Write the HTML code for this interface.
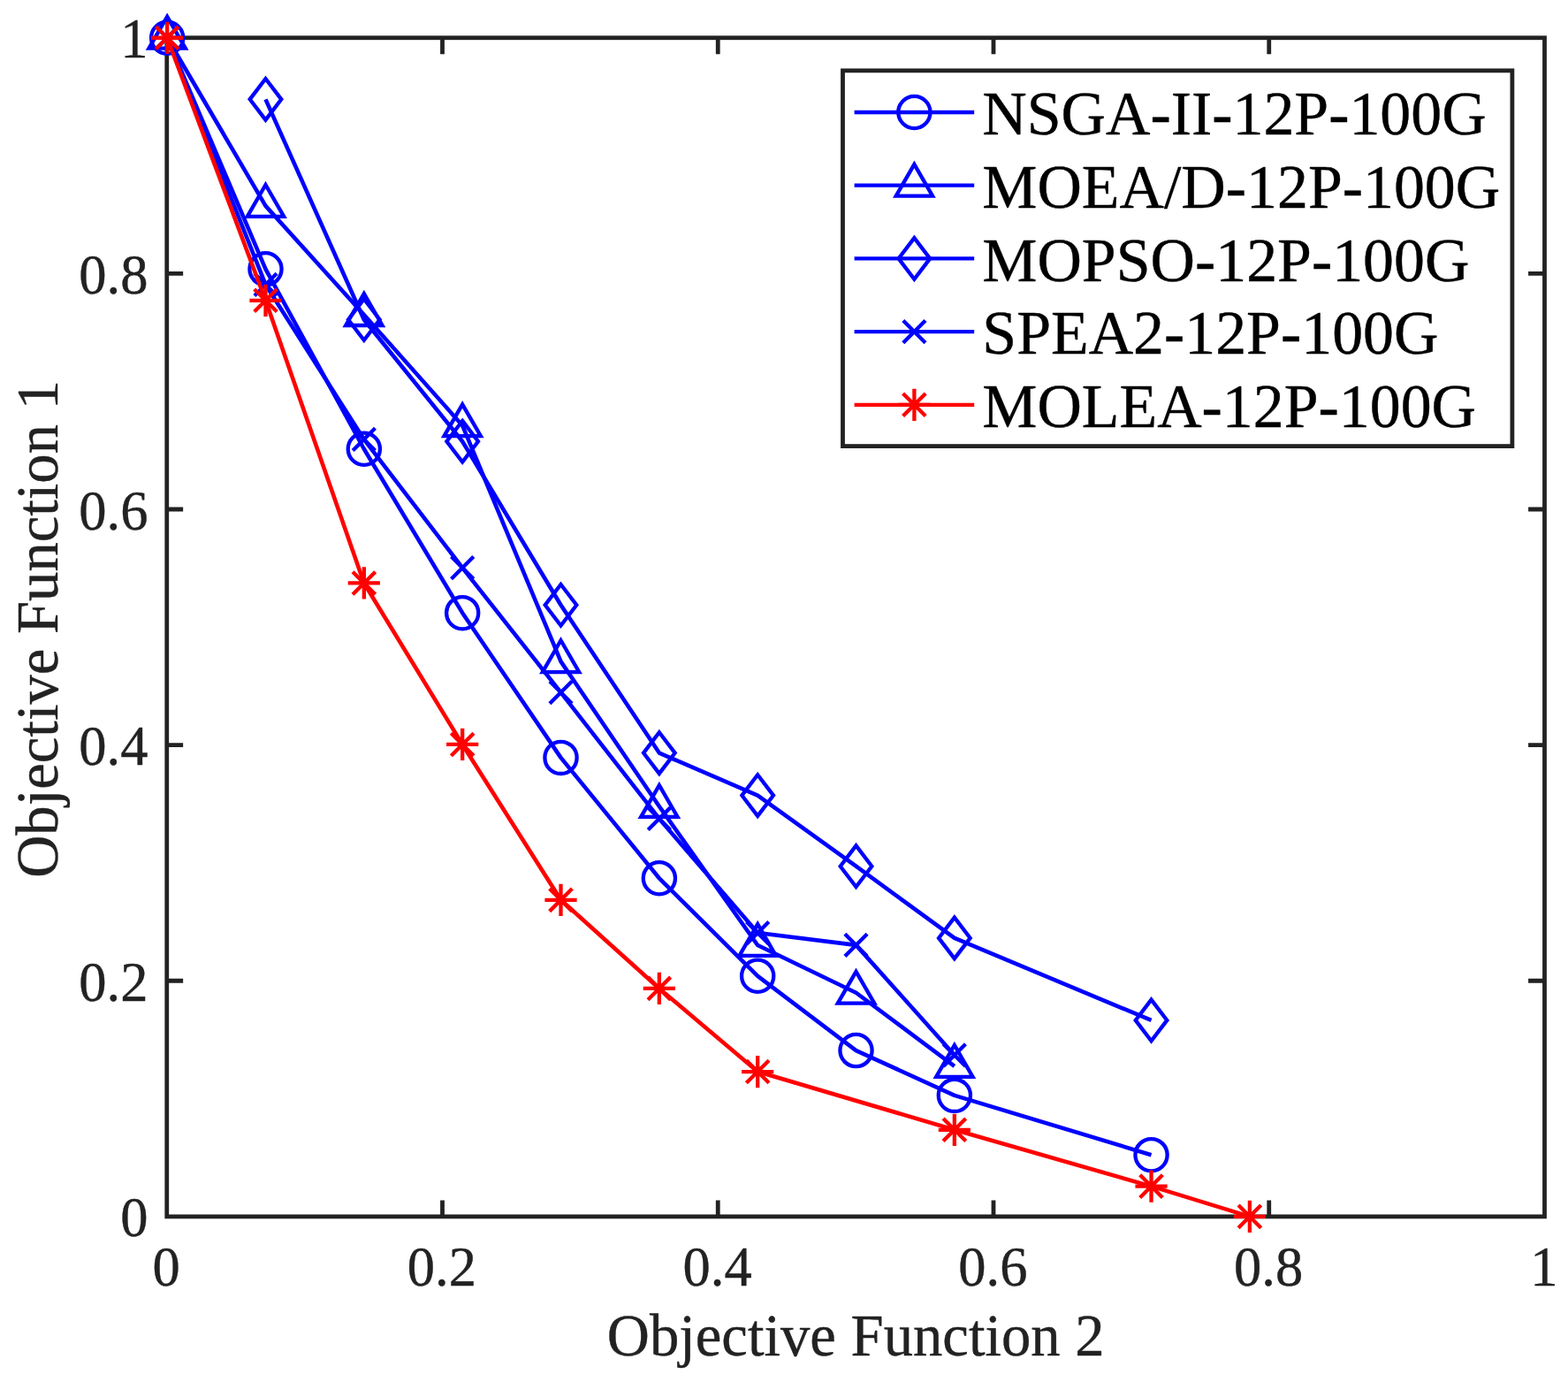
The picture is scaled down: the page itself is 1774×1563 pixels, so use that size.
<!DOCTYPE html>
<html lang="en"><head><meta charset="utf-8"><title>Pareto fronts: Objective Function 1 vs Objective Function 2</title>
<style>
html,body{margin:0;padding:0;background:#fff;}
body{width:1774px;height:1563px;overflow:hidden;}
svg{display:block;}
text{font-family:"Liberation Serif","Times New Roman",Times,serif;stroke-width:0.4px;stroke-linejoin:round;}
.tick{font-size:62.5px;fill:#222222;stroke:#222222;}
.lab{font-size:66.67px;fill:#222222;stroke:#222222;}
.leg{font-size:69.85px;fill:#000;stroke:#000;}
.ax{stroke:#222222;stroke-width:4.8;fill:none;}
.ln{fill:none;stroke-width:4.6;stroke-linejoin:round;stroke-linecap:butt;}
.mk{fill:none;stroke-width:4.3;stroke-linejoin:miter;stroke-miterlimit:10;stroke-linecap:butt;}
</style></head><body>
<svg width="1774" height="1563" viewBox="0 0 1774 1563" role="img" aria-label="Pareto fronts of five algorithms: Objective Function 1 versus Objective Function 2">
<rect x="0" y="0" width="1774" height="1563" fill="#fff"/>
<g class="ax">
<rect x="188.75" y="42.75" width="1558.75" height="1333.15"/>
<path d="M500.5 1375.9V1357.5M500.5 42.75V61.15M188.75 1109.27H207.15M1747.5 1109.27H1729.1M812.25 1375.9V1357.5M812.25 42.75V61.15M188.75 842.64H207.15M1747.5 842.64H1729.1M1124 1375.9V1357.5M1124 42.75V61.15M188.75 576.01H207.15M1747.5 576.01H1729.1M1435.75 1375.9V1357.5M1435.75 42.75V61.15M188.75 309.38H207.15M1747.5 309.38H1729.1"/>
</g>
<g class="tick">
<text x="188.15" y="1453.7" text-anchor="middle">0</text>
<text x="499.9" y="1453.7" text-anchor="middle">0.2</text>
<text x="811.65" y="1453.7" text-anchor="middle">0.4</text>
<text x="1123.4" y="1453.7" text-anchor="middle">0.6</text>
<text x="1435.15" y="1453.7" text-anchor="middle">0.8</text>
<text x="1746.9" y="1453.7" text-anchor="middle">1</text>
<text x="167.4" y="1398.4" text-anchor="end">0</text>
<text x="167.4" y="1131.77" text-anchor="end">0.2</text>
<text x="167.4" y="865.14" text-anchor="end">0.4</text>
<text x="167.4" y="598.51" text-anchor="end">0.6</text>
<text x="167.4" y="331.88" text-anchor="end">0.8</text>
<text x="167.4" y="65.25" text-anchor="end">1</text>
</g>
<text class="lab" x="968.2" y="1533.4" text-anchor="middle">Objective Function 2</text>
<text class="lab" transform="translate(65 711.4) rotate(-90)" text-anchor="middle">Objective Function 1</text>
<g stroke="#0000ff">
<polyline class="ln" points="189.15,42.75 300.49,304.31 411.83,507.75 523.17,693.19 634.51,856.9 745.85,993.29 857.19,1103.8 968.52,1188.06 1079.86,1238.85 1302.54,1306.18"/>
<g class="mk"><circle cx="189.15" cy="42.75" r="18.1"/><circle cx="300.49" cy="304.31" r="18.1"/><circle cx="411.83" cy="507.75" r="18.1"/><circle cx="523.17" cy="693.19" r="18.1"/><circle cx="634.51" cy="856.9" r="18.1"/><circle cx="745.85" cy="993.29" r="18.1"/><circle cx="857.19" cy="1103.8" r="18.1"/><circle cx="968.52" cy="1188.06" r="18.1"/><circle cx="1079.86" cy="1238.85" r="18.1"/><circle cx="1302.54" cy="1306.18" r="18.1"/></g>
</g>
<g stroke="#0000ff">
<polyline class="ln" points="189.15,42.75 300.49,232.86 411.83,356.04 523.17,481.22 634.51,748.12 745.85,911.96 857.19,1069.01 968.52,1122.73 1079.86,1205.92"/>
<g class="mk"><path d="M189.15 18.85L209.85 54.7L168.45 54.7Z"/><path d="M300.49 208.96L321.19 244.81L279.79 244.81Z"/><path d="M411.83 332.14L432.53 367.99L391.13 367.99Z"/><path d="M523.17 457.32L543.87 493.17L502.47 493.17Z"/><path d="M634.51 724.22L655.21 760.07L613.81 760.07Z"/><path d="M745.85 888.06L766.54 923.91L725.15 923.91Z"/><path d="M857.19 1045.11L877.88 1080.96L836.49 1080.96Z"/><path d="M968.52 1098.83L989.22 1134.68L947.83 1134.68Z"/><path d="M1079.86 1182.02L1100.56 1217.87L1059.17 1217.87Z"/></g>
</g>
<g stroke="#0000ff">
<polyline class="ln" points="300.49,112.34 411.83,361.51 523.17,499.22 634.51,684.26 745.85,851.57 857.19,899.57 968.52,979.69 1079.86,1060.88 1302.54,1153.93"/>
<g class="mk"><path d="M300.49 89.04L318.29 112.34L300.49 135.64L282.69 112.34Z"/><path d="M411.83 338.21L429.63 361.51L411.83 384.81L394.03 361.51Z"/><path d="M523.17 475.92L540.97 499.22L523.17 522.52L505.37 499.22Z"/><path d="M634.51 660.96L652.31 684.26L634.51 707.56L616.71 684.26Z"/><path d="M745.85 828.27L763.65 851.57L745.85 874.87L728.05 851.57Z"/><path d="M857.19 876.27L874.99 899.57L857.19 922.87L839.39 899.57Z"/><path d="M968.52 956.39L986.32 979.69L968.52 1002.99L950.73 979.69Z"/><path d="M1079.86 1037.58L1097.66 1060.88L1079.86 1084.18L1062.06 1060.88Z"/><path d="M1302.54 1130.63L1320.34 1153.93L1302.54 1177.23L1284.74 1153.93Z"/></g>
</g>
<g stroke="#0000ff">
<polyline class="ln" points="189.15,42.75 300.49,321.91 411.83,496.95 523.17,642.13 634.51,783.18 745.85,925.96 857.19,1055.01 968.52,1068.88 1079.86,1193.26"/>
<g class="mk"><path d="M176.55 30.15L201.75 55.35M176.55 55.35L201.75 30.15"/><path d="M287.89 309.31L313.09 334.51M287.89 334.51L313.09 309.31"/><path d="M399.23 484.35L424.43 509.55M399.23 509.55L424.43 484.35"/><path d="M510.57 629.53L535.77 654.73M510.57 654.73L535.77 629.53"/><path d="M621.91 770.58L647.11 795.78M621.91 795.78L647.11 770.58"/><path d="M733.25 913.36L758.45 938.56M733.25 938.56L758.45 913.36"/><path d="M844.59 1042.41L869.79 1067.61M844.59 1067.61L869.79 1042.41"/><path d="M955.92 1056.28L981.12 1081.48M955.92 1081.48L981.12 1056.28"/><path d="M1067.26 1180.66L1092.46 1205.86M1067.26 1205.86L1092.46 1180.66"/></g>
</g>
<g stroke="#ff0000">
<polyline class="ln" points="189.15,42.75 300.49,339.78 411.83,659.47 523.17,841.97 634.51,1017.82 745.85,1117.94 857.19,1212.06 1079.86,1277.78 1302.54,1341.64 1413.88,1375.9"/>
<g class="mk"><path d="M171.05 42.75H207.25M189.15 24.65V60.85M176.35 29.95L201.95 55.55M176.35 55.55L201.95 29.95"/><path d="M282.39 339.78H318.59M300.49 321.68V357.88M287.69 326.98L313.29 352.57M287.69 352.57L313.29 326.98"/><path d="M393.73 659.47H429.93M411.83 641.37V677.57M399.03 646.67L424.63 672.26M399.03 672.26L424.63 646.67"/><path d="M505.07 841.97H541.27M523.17 823.87V860.07M510.37 829.17L535.97 854.77M510.37 854.77L535.97 829.17"/><path d="M616.41 1017.82H652.61M634.51 999.72V1035.92M621.71 1005.02L647.31 1030.61M621.71 1030.61L647.31 1005.02"/><path d="M727.75 1117.94H763.95M745.85 1099.84V1136.04M733.05 1105.14L758.65 1130.73M733.05 1130.73L758.65 1105.14"/><path d="M839.09 1212.06H875.29M857.19 1193.96V1230.16M844.39 1199.26L869.98 1224.85M844.39 1224.85L869.98 1199.26"/><path d="M1061.76 1277.78H1097.96M1079.86 1259.68V1295.88M1067.07 1264.98L1092.66 1290.58M1067.07 1290.58L1092.66 1264.98"/><path d="M1284.44 1341.64H1320.64M1302.54 1323.54V1359.74M1289.74 1328.84L1315.34 1354.44M1289.74 1354.44L1315.34 1328.84"/><path d="M1395.78 1375.9H1431.98M1413.88 1357.8V1394M1401.08 1363.1L1426.68 1388.7M1401.08 1388.7L1426.68 1363.1"/></g>
</g>
<rect x="953.5" y="79.85" width="757.4" height="424.75" fill="#fff" stroke="#222222" stroke-width="4.8"/>
<g stroke="#0000ff">
<path class="ln" style="stroke-width:4.3" d="M966.6 127H1102.2"/>
<g class="mk"><circle cx="1034.4" cy="127" r="18.1"/></g>
</g>
<text class="leg" x="1111.3" y="152.3">NSGA-II-12P-100G</text>
<g stroke="#0000ff">
<path class="ln" style="stroke-width:4.3" d="M966.6 209.7H1102.2"/>
<g class="mk"><path d="M1034.4 185.8L1055.1 221.65L1013.7 221.65Z"/></g>
</g>
<text class="leg" x="1111.3" y="235">MOEA/D-12P-100G</text>
<g stroke="#0000ff">
<path class="ln" style="stroke-width:4.3" d="M966.6 292.4H1102.2"/>
<g class="mk"><path d="M1034.4 269.1L1052.2 292.4L1034.4 315.7L1016.6 292.4Z"/></g>
</g>
<text class="leg" x="1111.3" y="317.7">MOPSO-12P-100G</text>
<g stroke="#0000ff">
<path class="ln" style="stroke-width:4.3" d="M966.6 375.1H1102.2"/>
<g class="mk"><path d="M1021.8 362.5L1047 387.7M1021.8 387.7L1047 362.5"/></g>
</g>
<text class="leg" x="1111.3" y="400.4">SPEA2-12P-100G</text>
<g stroke="#ff0000">
<path class="ln" style="stroke-width:4.3" d="M966.6 457.8H1102.2"/>
<g class="mk"><path d="M1016.3 457.8H1052.5M1034.4 439.7V475.9M1021.6 445L1047.2 470.6M1021.6 470.6L1047.2 445"/></g>
</g>
<text class="leg" x="1111.3" y="483.1">MOLEA-12P-100G</text>
</svg>
</body></html>
